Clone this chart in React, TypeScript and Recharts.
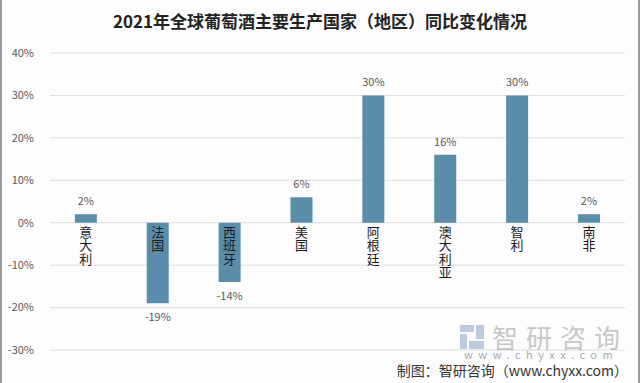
import React from 'react'
import { BarChart, Bar, XAxis, YAxis, CartesianGrid, LabelList } from 'recharts'

const countries = ['意大利', '法国', '西班牙', '美国', '阿根廷', '澳大利亚', '智利', '南非']
const changes = [2, -19, -14, 6, 30, 16, 30, 2]
const yTicks = [-30, -20, -10, 0, 10, 20, 30, 40]

const data = countries.map((name, i) => ({ name, value: changes[i] }))

const BAR_COLOR = '#5A8DAA'
const FONT = '"Noto Sans CJK SC", "Noto Sans", sans-serif'

const NameLabel = (props: any) => {
  const { x, y, width, height, index } = props
  const v = changes[index]
  const top = Math.min(y, y + height)
  const bottom = Math.max(y, y + height)
  const zero = v >= 0 ? bottom : top
  const cx = x + width / 2
  const chars = countries[index].split('')
  return (
    <text x={cx} y={zero + 14} textAnchor="middle" fontSize={13} fill="#1a1a1a" fontFamily={FONT}>
      {chars.map((c, k) => (
        <tspan key={k} x={cx} dy={k === 0 ? 0 : 13.5}>{c}</tspan>
      ))}
    </text>
  )
}

const ValueLabel = (props: any) => {
  const { x, y, width, height, index } = props
  const v = changes[index]
  const top = Math.min(y, y + height)
  const bottom = Math.max(y, y + height)
  const cx = x + width / 2
  const ly = v >= 0 ? top - 9 : bottom + 18
  return (
    <text x={cx} y={ly} textAnchor="middle" fontSize={11} fill="#595959" fontFamily={FONT}>
      {v}%
    </text>
  )
}

export default function App() {
  return (
    <div
      style={{
        position: 'absolute',
        left: 0,
        top: 0,
        width: 640,
        height: 383,
        background: '#fdfdfd',
        fontFamily: FONT,
        boxSizing: 'border-box',
        borderLeft: '2px solid #9a9a9a',
        borderRight: '2px solid #9a9a9a',
        overflow: 'hidden',
      }}
    >
      <div
        style={{
          position: 'absolute',
          left: 0,
          top: 8,
          width: 636,
          textAlign: 'center',
          fontSize: 17,
          fontWeight: 700,
          color: '#222',
        }}
      >
        2021年全球葡萄酒主要生产国家（地区）同比变化情况
      </div>
      <div style={{ position: 'absolute', left: -2, top: 0 }}>
        <BarChart
          width={640}
          height={383}
          data={data}
          margin={{ top: 53, right: 15, bottom: 33, left: 0 }}
          barCategoryGap="34.6%"
        >
          <CartesianGrid vertical={false} stroke="#dedede" />
          <XAxis dataKey="name" hide />
          <YAxis
            width={50}
            domain={[-30, 40]}
            ticks={yTicks}
            tickFormatter={(v: number) => `${v}%`}
            axisLine={false}
            tickLine={false}
            tick={{ fontSize: 11, fill: '#595959', fontFamily: FONT }}
            tickMargin={10}
          />
          <Bar dataKey="value" fill={BAR_COLOR} isAnimationActive={false}>
            <LabelList dataKey="value" content={ValueLabel} />
            <LabelList dataKey="name" content={NameLabel} />
          </Bar>
        </BarChart>
      </div>
      <div
        style={{
          position: 'absolute',
          left: 458,
          top: 318,
          display: 'flex',
          alignItems: 'center',
          gap: 8,
          opacity: 0.45,
        }}
      >
        <div style={{ width: 24, height: 24, position: 'relative' }}>
          <div style={{ position: 'absolute', left: 0, top: 0, width: 14, height: 7, background: '#6d8fb8' }} />
          <div style={{ position: 'absolute', left: 0, top: 9, width: 7, height: 15, background: '#6d8fb8' }} />
          <div style={{ position: 'absolute', left: 16, top: 0, width: 8, height: 14, background: '#6d8fb8' }} />
          <div style={{ position: 'absolute', left: 9, top: 16, width: 15, height: 8, background: '#6d8fb8' }} />
        </div>
        <div style={{ fontSize: 26, color: '#888', letterSpacing: 8 }}>智研咨询</div>
      </div>
      <div
        style={{
          position: 'absolute',
          left: 462,
          top: 346,
          fontSize: 11,
          color: '#aaa',
          letterSpacing: 5.5,
        }}
      >
        www.chyxx.com
      </div>
      <div
        style={{
          position: 'absolute',
          right: 10,
          top: 360,
          fontSize: 14,
          color: '#333',
        }}
      >
        制图：智研咨询（www.chyxx.com）
      </div>
    </div>
  )
}
